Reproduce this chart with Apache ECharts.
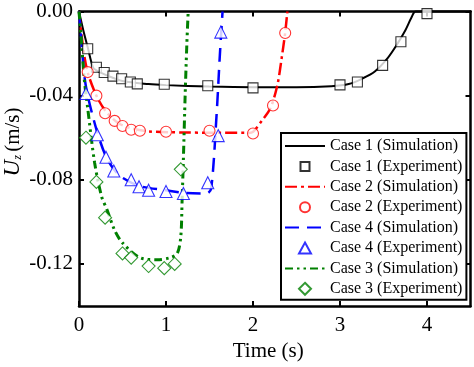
<!DOCTYPE html>
<html>
<head>
<meta charset="utf-8">
<script src="https://cdn.jsdelivr.net/npm/echarts@6/dist/echarts.min.js"></script>
<style>html,body{margin:0;padding:0;background:#fff}#c{width:474px;height:367px}</style>
</head>
<body>
<div id="c"></div>
<script>
// ---- data ----
const sim1T = [0, 0.05, 0.1, 0.16, 0.2, 0.3, 0.5, 0.8, 1.0, 1.5, 2.0, 2.5, 2.9, 3.1, 3.25, 3.4, 3.55, 3.65, 3.75, 3.82, 3.87, 4.5];
const sim1V = [0, -0.009, -0.017, -0.0265, -0.028, -0.030, -0.033, -0.0345, -0.035, -0.0357, -0.036, -0.036, -0.0355, -0.0345, -0.032, -0.0285, -0.022, -0.016, -0.009, -0.003, 0, 0];
const exp1T = [0.10, 0.20, 0.29, 0.39, 0.49, 0.59, 0.67, 0.98, 1.48, 2.0, 3.0, 3.2, 3.49, 3.70, 4.0];
const exp1V = [-0.0177, -0.0265, -0.029, -0.0307, -0.032, -0.0335, -0.0344, -0.0346, -0.0353, -0.0363, -0.0349, -0.0335, -0.0256, -0.0144, -0.001];

const sim2T = [0, 0.05, 0.1, 0.2, 0.3, 0.45, 0.6, 0.8, 1.2, 1.95, 2.0, 2.1, 2.2, 2.28, 2.33, 2.37, 2.395];
const sim2V = [0, -0.018, -0.029, -0.040, -0.047, -0.053, -0.0555, -0.057, -0.0575, -0.0577, -0.0572, -0.052, -0.046, -0.035, -0.022, -0.010, 0];
const exp2T = [0.10, 0.20, 0.30, 0.41, 0.50, 0.60, 0.70, 1.0, 1.5, 2.0, 2.23, 2.37];
const exp2V = [-0.0288, -0.040, -0.0484, -0.052, -0.0544, -0.0562, -0.0567, -0.0572, -0.0567, -0.058, -0.0447, -0.0102];

const sim4T = [0, 0.03, 0.06, 0.1, 0.2, 0.3, 0.4, 0.5, 0.7, 1.0, 1.2, 1.47, 1.52, 1.58, 1.62, 1.65];
const sim4V = [0, -0.015, -0.03, -0.04, -0.056, -0.068, -0.075, -0.079, -0.083, -0.085, -0.0862, -0.0865, -0.084, -0.05, -0.02, 0];
const exp4T = [0.08, 0.21, 0.31, 0.40, 0.60, 0.69, 0.80, 1.0, 1.20, 1.48, 1.60, 1.63];
const exp4V = [-0.039, -0.0586, -0.0693, -0.0758, -0.080, -0.0833, -0.085, -0.0856, -0.0865, -0.0814, -0.059, -0.0098];

const sim3T = [0, 0.03, 0.06, 0.1, 0.18, 0.26, 0.32, 0.41, 0.5, 0.7, 0.9, 1.05, 1.13, 1.17, 1.185, 1.2, 1.22, 1.24, 1.255];
const sim3V = [0, -0.015, -0.032, -0.046, -0.072, -0.088, -0.094, -0.104, -0.110, -0.117, -0.118, -0.117, -0.115, -0.107, -0.09, -0.07, -0.04, -0.015, 0];
const exp3T = [0.08, 0.20, 0.30, 0.50, 0.60, 0.80, 0.98, 1.10, 1.17];
const exp3V = [-0.060, -0.081, -0.098, -0.115, -0.117, -0.121, -0.122, -0.120, -0.075];

const xTicks = [0, 1, 2, 3, 4];
const yTicks = [-0.12, -0.08, -0.04, 0];
const names = ['Case 1 (Simulation)', 'Case 1 (Experiment)', 'Case 2 (Simulation)', 'Case 2 (Experiment)',
               'Case 4 (Simulation)', 'Case 4 (Experiment)', 'Case 3 (Simulation)', 'Case 3 (Experiment)'];

const zip = (a, b) => a.map((v, i) => [v, b[i]]);
const FONT = 'Liberation Serif';

// legend icons for markers (padded so they stay small and centred)
const ICONS = {
  rect: 'path://M-3.5,-3.5M12.5,12.5M0,0L9,0L9,9L0,9Z',
  circle: 'path://M-3,-3M13,13M10,5A5,5,0,1,1,0,5A5,5,0,1,1,10,5Z',
  triangle: 'path://M-2,-2.5M14,13.5M6,0L12,11L0,11Z',
  diamond: 'path://M-2,-2M14,14M6,0L12,6L6,12L0,6Z'
};
const markerOf = {};

function simSeries(name, t, v, color, type, width) {
  return { name, type: 'line', data: zip(t, v), symbol: 'none', smooth: 0.3, z: 2,
    lineStyle: { color, width, type }, itemStyle: { color: 'rgba(0,0,0,0)', borderWidth: 0 }, clip: false };
}
function expSeries(name, t, v, color, symbol, size) {
  markerOf[name] = symbol;
  return { name, type: 'scatter', data: zip(t, v), symbol, symbolSize: size, z: 3,
    itemStyle: { color: '#fff', borderColor: color, borderWidth: 1.1 } };
}

const tickStyle = (vals) => ({ show: true, inside: true, length: 5, lineStyle: { color: '#000', width: 2 }, customValues: vals });
const frameAxis = (extra) => Object.assign({
  axisLine: { show: true, onZero: false, lineStyle: { color: '#000', width: 2.5 } },
  splitLine: { show: false }
}, extra);

const series = [
  simSeries(names[0], sim1T, sim1V, '#000', 'solid', 2),
  expSeries(names[1], exp1T, exp1V, '#000', 'rect', 10),
  simSeries(names[2], sim2T, sim2V, '#ff0000', [12, 4, 3, 4], 2.5),
  expSeries(names[3], exp2T, exp2V, '#ff0000', 'circle', 11),
  simSeries(names[4], sim4T, sim4V, '#0000ff', [14, 8], 2.5),
  expSeries(names[5], exp4T, exp4V, '#0000ff', 'triangle', 12),
  simSeries(names[6], sim3T, sim3V, '#008000', [8, 4, 2.5, 4, 2.5, 4], 3),
  expSeries(names[7], exp3T, exp3V, '#008000', 'diamond', 13)
];

const legendData = names.map(n => markerOf[n] ? { name: n, icon: ICONS[markerOf[n]] } : { name: n });

const chart = echarts.init(document.getElementById('c'));
chart.setOption({
  animation: false,
  backgroundColor: '#fff',
  grid: { left: 79, top: 11.5, right: 3.5, bottom: 55.5 },
  xAxis: [
    frameAxis({ type: 'value', min: 0, max: 4.5, position: 'bottom',
      axisTick: tickStyle(xTicks),
      axisLabel: { customValues: xTicks, color: '#000', fontFamily: FONT, fontSize: 21, margin: 9 },
      name: 'Time (s)', nameLocation: 'middle', nameGap: 35,
      nameTextStyle: { color: '#000', fontFamily: FONT, fontSize: 21, padding: [0, 13, 0, 0] } }),
    frameAxis({ type: 'value', min: 0, max: 4.5, position: 'top',
      axisTick: tickStyle(xTicks), axisLabel: { show: false } })
  ],
  yAxis: [
    frameAxis({ type: 'value', min: -0.14, max: 0, position: 'left',
      axisTick: tickStyle(yTicks),
      axisLabel: { customValues: yTicks, color: '#000', fontFamily: FONT, fontSize: 21, margin: 6,
        formatter: v => v.toFixed(2) } }),
    frameAxis({ type: 'value', min: -0.14, max: 0, position: 'right',
      axisTick: tickStyle(yTicks), axisLabel: { show: false } })
  ],
  legend: {
    data: legendData, orient: 'vertical', left: 281, top: 133,
    padding: [5, 4, 2, 3], itemWidth: 40, itemHeight: 16, itemGap: 3.4,
    borderColor: '#000', borderWidth: 2, backgroundColor: '#fff',
    textStyle: { color: '#000', fontFamily: FONT, fontSize: 16 }
  },
  graphic: [{
    type: 'text', x: 13, y: 142, rotation: Math.PI / 2,
    style: {
      text: '{u|U}{s|z} {n|(m/s)}', align: 'center', verticalAlign: 'middle',
      rich: {
        u: { fontFamily: FONT, fontSize: 23, fontStyle: 'italic', fill: '#000', verticalAlign: 'bottom', lineHeight: 22 },
        s: { fontFamily: FONT, fontSize: 12, fontStyle: 'italic', fill: '#000', verticalAlign: 'bottom', lineHeight: 16 },
        n: { fontFamily: FONT, fontSize: 21, fill: '#000', verticalAlign: 'bottom', lineHeight: 22 }
      }
    }
  }],
  series
});
</script>
</body>
</html>
